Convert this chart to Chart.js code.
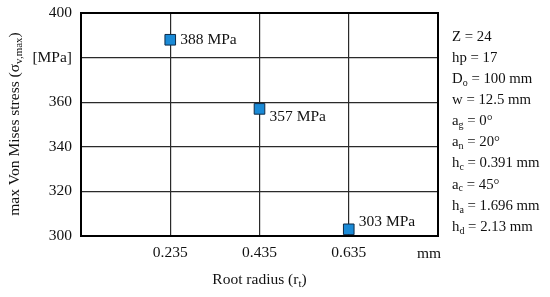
<!DOCTYPE html>
<html>
<head>
<meta charset="utf-8">
<script src="https://cdn.jsdelivr.net/npm/chart.js@4"></script>
<style>
  html, body { margin: 0; padding: 0; background: #fff; }
  #wrap { width: 550px; height: 297px; }
</style>
</head>
<body>
<div id="wrap"><canvas id="chart"></canvas></div>
<script>
// Dados
const rootRadius = [0.235, 0.435, 0.635];
const maxStress = [388, 357, 303];
const pointLabels = ['388 MPa', '357 MPa', '303 MPa'];
const xTickValues = [0.235, 0.435, 0.635];
const xTickLabels = ['0.235', '0.435', '0.635'];
const xUnit = 'mm';
const yTickValues = [300, 320, 340, 360, 380, 400];
const yTickLabels = ['300', '320', '340', '360', '[MPa]', '400'];

// Parâmetros da engrenagem (base, subscrito, resto)
const paramBase = ['Z = 24', 'hp = 17', 'D', 'w = 12.5 mm', 'a', 'a', 'h', 'a', 'h', 'h'];
const paramSub = ['', '', 'o', '', 'g', 'n', 'c', 'c', 'a', 'd'];
const paramRest = ['', '', ' = 100 mm', '', ' = 0°', ' = 20°', ' = 0.391 mm', ' = 45°', ' = 1.696 mm', ' = 2.13 mm'];

const serif = '"Liberation Serif", "DejaVu Serif", serif';
const fs = 15.5;

// Desenha texto com subscrito
function drawSub(ctx, x, y, base, sub, rest, size) {
    ctx.font = size + 'px ' + serif;
    ctx.fillText(base, x, y);
    x += ctx.measureText(base).width;
    if (sub) {
        ctx.font = Math.round(size * 0.68) + 'px ' + serif;
        ctx.fillText(sub, x, y + size * 0.28);
        x += ctx.measureText(sub).width;
    }
    if (rest) {
        ctx.font = size + 'px ' + serif;
        ctx.fillText(rest, x, y);
        x += ctx.measureText(rest).width;
    }
    return x;
}

function subWidth(ctx, base, sub, rest, size) {
    ctx.font = size + 'px ' + serif;
    let w = ctx.measureText(base).width + ctx.measureText(rest).width;
    ctx.font = Math.round(size * 0.68) + 'px ' + serif;
    return w + ctx.measureText(sub).width;
}

const extras = {
    id: 'extras',
    afterDraw(chart) {
        const ctx = chart.ctx;
        const area = chart.chartArea;
        const xs = chart.scales.x;
        const ys = chart.scales.y;
        ctx.save();

        // Moldura da área do gráfico
        ctx.strokeStyle = '#000';
        ctx.lineWidth = 2;
        ctx.strokeRect(area.left, area.top, area.right - area.left, area.bottom - area.top);

        // Rótulos dos pontos
        ctx.fillStyle = '#111';
        ctx.textBaseline = 'middle';
        ctx.textAlign = 'left';
        ctx.font = fs + 'px ' + serif;
        const dy = [0, 8, -7];
        rootRadius.forEach((r, i) => {
            const px = xs.getPixelForValue(r);
            const py = ys.getPixelForValue(maxStress[i]);
            ctx.fillText(pointLabels[i], px + 10, py + dy[i]);
        });

        // Unidade do eixo x
        ctx.textAlign = 'center';
        ctx.fillText(xUnit, area.right - 9, 254);
        ctx.textAlign = 'left';

        // Lista de parâmetros à direita
        for (let i = 0; i < paramBase.length; i++) {
            drawSub(ctx, area.right + 14, 37 + i * 21.1, paramBase[i], paramSub[i], paramRest[i], 14.8);
        }

        // Título do eixo x
        const wx = subWidth(ctx, 'Root radius (r', 't', ')', fs);
        const cx = xs.getPixelForValue(0.435);
        drawSub(ctx, cx - wx / 2, 280, 'Root radius (r', 't', ')', fs);

        // Título do eixo y (rotacionado)
        ctx.translate(15, 124);
        ctx.rotate(-Math.PI / 2);
        const wy = subWidth(ctx, 'max Von Mises stress (σ', 'v,max', ')', fs);
        drawSub(ctx, -wy / 2, 0, 'max Von Mises stress (σ', 'v,max', ')', fs);

        ctx.restore();
    }
};

new Chart(document.getElementById('chart'), {
    type: 'scatter',
    data: {
        datasets: [{
            data: rootRadius.map((r, i) => ({ x: r, y: maxStress[i] })),
            pointStyle: 'rect',
            pointRadius: 7.5,
            backgroundColor: '#1a8ad6',
            borderColor: '#0d2a48',
            borderWidth: 1
        }]
    },
    options: {
        responsive: true,
        maintainAspectRatio: false,
        animation: false,
        layout: { padding: { left: 0, right: 112, top: 13, bottom: 0 } },
        plugins: {
            legend: { display: false },
            tooltip: { enabled: false }
        },
        scales: {
            x: {
                type: 'linear',
                min: 0.035,
                max: 0.835,
                afterBuildTicks: (scale) => {
                    scale.ticks = xTickValues.map(v => ({ value: v }));
                },
                afterFit: (scale) => {
                    scale.height = 61;
                    scale.paddingLeft = 0;
                    scale.paddingRight = 0;
                },
                ticks: {
                    padding: 8,
                    color: '#111',
                    font: { family: serif, size: fs },
                    maxRotation: 0,
                    callback: (v) => {
                        const i = xTickValues.findIndex(t => Math.abs(t - v) < 1e-6);
                        return i >= 0 ? xTickLabels[i] : '';
                    }
                },
                grid: { color: '#2a2a2a', lineWidth: 1.2, drawTicks: false },
                border: { display: false }
            },
            y: {
                min: 300,
                max: 400,
                afterBuildTicks: (scale) => {
                    scale.ticks = yTickValues.map(v => ({ value: v }));
                },
                afterFit: (scale) => {
                    scale.width = 81;
                    scale.paddingTop = 0;
                    scale.paddingBottom = 0;
                },
                ticks: {
                    padding: 9,
                    color: '#111',
                    font: { family: serif, size: fs },
                    callback: (v) => {
                        const i = yTickValues.indexOf(v);
                        return i >= 0 ? yTickLabels[i] : '';
                    }
                },
                grid: { color: '#2a2a2a', lineWidth: 1.2, drawTicks: false },
                border: { display: false }
            }
        }
    },
    plugins: [extras]
});
</script>
</body>
</html>
